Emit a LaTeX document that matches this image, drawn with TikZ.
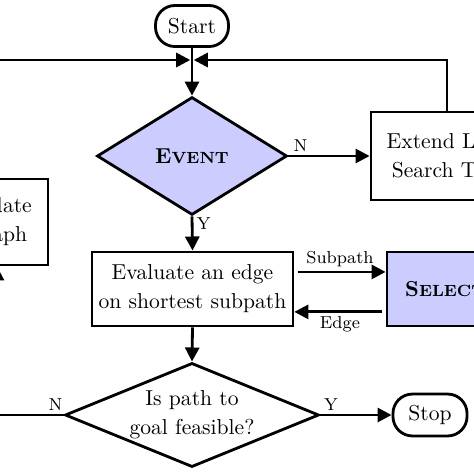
\documentclass[tikz,border=0pt]{standalone}
\usetikzlibrary{shapes.geometric,arrows.meta}
\definecolor{lav}{RGB}{204,204,255}
\newcommand{\fakesc}[2]{\textbf{#1{\fontsize{7.5}{9}\selectfont #2}}}
\begin{document}
\begin{tikzpicture}[x=0.463pt,y=-0.463pt,line width=1.3pt,
  font=\fontsize{10}{13.4}\selectfont,
  box/.style={draw,rectangle,inner sep=0pt,align=center},
  term/.style={draw,rectangle,rounded corners=9pt,inner sep=0pt},
  dec/.style={draw,diamond,inner sep=0pt,align=center},
  arr/.style={-{Triangle[length=6.5pt,width=6.5pt]}},
  lbl/.style={font=\footnotesize,inner sep=1.5pt}]
\useasboundingbox (0,0) rectangle (474,474);
\clip (0,0) rectangle (474,474);
% nodes
\node[term,minimum width=33.8pt,minimum height=19pt] (start) at (192,26) {Start};
\node[dec,aspect=1.61,fill=lav,minimum width=88pt,minimum height=54.6pt] (event) at (192,156) {\fakesc{E}{VENT}};
\node[box,minimum width=70.4pt,minimum height=40.7pt] (extend) at (447,156) {Extend Lazy\\Search Tree};
\node[box,minimum width=93pt,minimum height=34.3pt] (evaluate) at (192.5,289) {Evaluate an edge\\on shortest subpath};
\node[box,fill=lav,minimum width=67.6pt,minimum height=34.3pt] (select) at (460,289) {\fakesc{S}{ELECTOR}};
\node[dec,aspect=2.44,minimum width=117.6pt,minimum height=48.2pt] (feasible) at (192,415) {Is path to\\goal feasible?};
\node[term,minimum width=34.3pt,minimum height=19.4pt] (stop) at (430,415) {Stop};
\node[box,minimum width=47.2pt,minimum height=39.8pt] (update) at (-3,222) {Update\\Graph};
\coordinate (j) at (192,60);
% connectors
\draw[arr] (start) -- (event);
\draw[arr,shorten >=0.8pt] (update.north) |- (j);
\draw[arr,shorten >=0.8pt] (extend.north) |- (j);
\draw[arr] (event.east) -- node[lbl,above,pos=0.15] {N} (extend.west);
\draw[arr] (event.south) -- node[lbl,right,pos=0.22] {Y} (evaluate.north);
\draw[arr] (evaluate.south) -- (feasible.north);
\draw[arr,shorten <=1.5pt] ([yshift=7.9pt]evaluate.east) -- node[lbl,above] {Subpath} ([yshift=7.9pt]select.west);
\draw[arr,shorten <=1.5pt] ([yshift=-10.6pt]select.west) -- node[lbl,below] {Edge} ([yshift=-10.6pt]evaluate.east);
\draw[arr] (feasible.east) -- node[lbl,above,pos=0.15] {Y} (stop.west);
\draw[arr] (feasible.west) -| node[lbl,above,pos=0.06] {N} (update.south);
\end{tikzpicture}
\end{document}
